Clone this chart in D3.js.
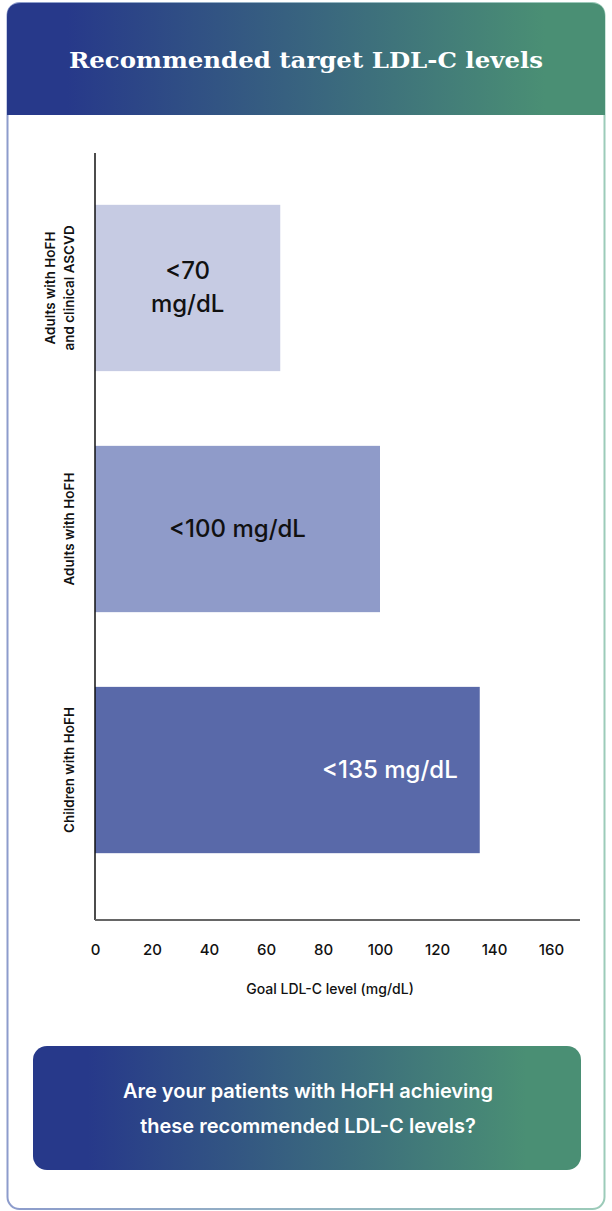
<!DOCTYPE html><html><head><meta charset="utf-8"><script src="https://cdn.jsdelivr.net/npm/d3@7"></script>
<style>body{margin:0;background:#fff}</style></head><body><svg id="c" width="612" height="1211"></svg>
<script>
const categories=[["Adults with HoFH","and clinical ASCVD"],["Adults with HoFH"],["Children with HoFH"]];
const values=[65,100,135];
const barLabels=[["<70","mg/dL"],["<100 mg/dL"],["<135 mg/dL"]];
const barColors=["#c6cbe3","#8f9bc9","#5969a9"];
const ticks=[0,20,40,60,80,100,120,140,160];
const svg=d3.select("#c");
const defs=svg.append("defs");
const g=defs.append("linearGradient").attr("id","gr");
g.append("stop").attr("offset","0.1").attr("stop-color","#27398a");
g.append("stop").attr("offset","0.9").attr("stop-color","#4a8f74");
const gb=defs.append("linearGradient").attr("id","gb");
gb.append("stop").attr("offset","0").attr("stop-color","#8d9ccc");
gb.append("stop").attr("offset","1").attr("stop-color","#9ccbb9");
svg.append("rect").attr("x",7.5).attr("y",3).attr("width",597).attr("height",1206).attr("rx",12).attr("fill","#fff").attr("stroke","url(#gb)").attr("stroke-width",2);
svg.append("path").attr("d","M7,115 V17 Q7,3 21,3 H591 Q605,3 605,17 V115 Z").attr("fill","url(#gr)");
svg.append("text").attr("x",306).attr("y",68).attr("text-anchor","middle").attr("fill","#fff").attr("font-family","DejaVu Serif").attr("font-weight","bold").attr("font-size",22).attr("textLength",474).attr("lengthAdjust","spacingAndGlyphs").text("Recommended target LDL-C levels");
const x=d3.scaleLinear().domain([0,160]).range([95,551]);
const y=d3.scaleBand().domain(d3.range(3)).range([153,905]).paddingInner(0.31).paddingOuter(0.215);
svg.selectAll("rect.bar").data(values).join("rect").attr("class","bar").attr("x",x(0)).attr("y",(d,i)=>y(i)).attr("width",d=>x(d)-x(0)).attr("height",y.bandwidth()).attr("fill",(d,i)=>barColors[i]);
const F="Inter, 'Noto Sans', sans-serif";
values.forEach((v,i)=>{
  const lines=barLabels[i];const cy=y(i)+y.bandwidth()/2;
  const right=i===2;
  const t=svg.append("text").attr("font-family",F).attr("font-weight",500).attr("font-size",24).attr("fill",right?"#fff":"#111")
    .attr("text-anchor",right?"end":"middle");
  lines.forEach((l,j)=>t.append("tspan").attr("x",right?x(v)-22:(x(0)+x(v))/2).attr("y",cy+8+(j-(lines.length-1)/2)*33).text(l));
  const c=categories[i];
  c.forEach((l,j)=>svg.append("text").attr("transform",`translate(${c.length>1?55+j*19:74},${cy}) rotate(-90)`).attr("text-anchor","middle").attr("font-family",F).attr("font-weight",600).attr("font-size",13.5).attr("fill","#111").text(l));
});
svg.append("line").attr("x1",95).attr("x2",95).attr("y1",153).attr("y2",920).attr("stroke","#111").attr("stroke-width",1.5);
svg.append("line").attr("x1",95).attr("x2",580).attr("y1",920).attr("y2",920).attr("stroke","#666").attr("stroke-width",2);
const ax=svg.append("g").attr("transform","translate(0,920)").call(d3.axisBottom(x).tickValues(ticks).tickSize(0).tickPadding(24));
ax.select(".domain").remove();
ax.selectAll("text").attr("font-family",F).attr("font-size",15).attr("font-weight",500).attr("fill","#111");
svg.append("text").attr("x",330).attr("y",994).attr("text-anchor","middle").attr("font-family",F).attr("font-weight",500).attr("font-size",14).attr("fill","#111").text("Goal LDL-C level (mg/dL)");
svg.append("rect").attr("x",33).attr("y",1046).attr("width",548).attr("height",124).attr("rx",14).attr("fill","url(#gr)");
const ft=svg.append("text").attr("text-anchor","middle").attr("font-family",F).attr("font-weight",600).attr("font-size",20).attr("fill","#fff");
[["Are your patients with HoFH achieving",1098],["these recommended LDL-C levels?",1133]].forEach(([s,yy])=>ft.append("tspan").attr("x",308).attr("y",yy).text(s));
</script></body></html>
